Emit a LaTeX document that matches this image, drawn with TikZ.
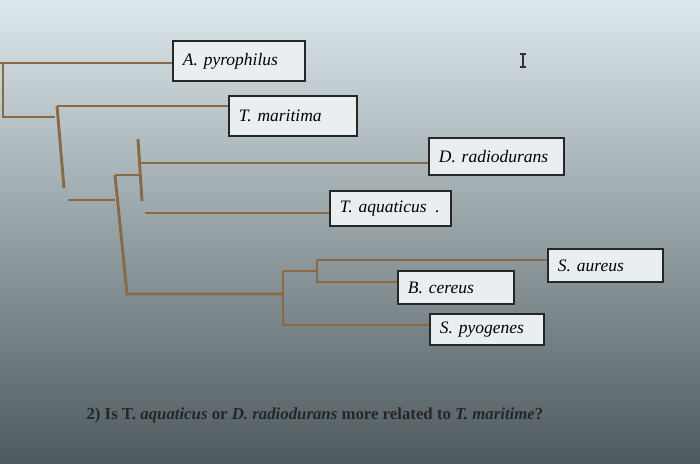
\documentclass[tikz,border=0pt]{standalone}
\usepackage{fontspec}
\setmainfont{Liberation Serif}
\usetikzlibrary{positioning}

\definecolor{branchbrown}{HTML}{8A6A45}
\definecolor{boxfill}{HTML}{E9EEF1}
\definecolor{screentop}{HTML}{DDE8ED}
\definecolor{screenmid}{HTML}{C1CCD2}
\definecolor{screenbot}{HTML}{4E5A5E}
\tikzset{
  branch/.style={line width=2.9pt,color=branchbrown},
  taxon/.style={draw=black!85,line width=1.8pt,fill=boxfill,anchor=north west,
    inner xsep=10pt,inner ysep=0pt,align=left,font=\fontsize{17.5}{19}\selectfont\itshape},
}

\begin{document}
\begin{tikzpicture}[x=1pt,y=-1pt]
        \useasboundingbox (0,0) rectangle (700,463);
        \shade[top color=screentop,middle color=screenmid,bottom color=screenbot] (0,0) rectangle (700,463);
        % taxa
        \node[taxon,text width=112pt,minimum height=40pt] (pyro) at (172,40) {A. pyrophilus};
        \node[taxon,text width=108pt,minimum height=40pt] (tmar) at (228,95) {T. maritima};
        \node[taxon,text width=115pt,minimum height=37pt] (drad) at (428,137) {D. radiodurans};
        \node[taxon,text width=101pt,minimum height=35pt] (taq) at (329,190) {T. aquaticus \,.};
        \node[taxon,text width=95pt,minimum height=33pt] (saur) at (547,248) {S. aureus};
        \node[taxon,text width=96pt,minimum height=33pt] (bcer) at (397,270) {B. cereus};
        \node[taxon,text width=94pt,minimum height=31pt] (spyo) at (429,313) {S. pyogenes};
        % tree
        \coordinate (r0) at (0,63) {};
        \coordinate (r1) at (3,117) {};
        \coordinate (n1) at (57,106) {};
        \coordinate (n1b) at (64,188) {};
        \coordinate (n2) at (115,175) {};
        \coordinate (n2b) at (127,294) {};
        \coordinate (n3) at (138,139) {};
        \coordinate (n4) at (283,271) {};
        \coordinate (n5) at (317,260) {};
        \draw[branch] (r0)--(r0 -| pyro.west);
        \draw[branch] (3,63)--(r1)--(55,117);
        \draw[branch] (n1)--(n1b);
        \draw[branch] (n1)--(n1 -| tmar.west);
        \draw[branch] (68,200)--(115,200);
        \draw[branch] (n2)--(n2b)--(n4 |- n2b);
        \draw[branch] (n2)--(140,175);
        \draw[branch] (n3)--(142,201);
        \draw[branch] (140,163)--(drad.west |- 0,163);
        \draw[branch] (145,213)--(taq.west |- 0,213);
        \draw[branch] (n4)--(283,325)--(spyo.west |- 0,325);
        \draw[branch] (n4)--(n5 |- n4);
        \draw[branch] (n5)--(317,282)--(bcer.west |- 0,282);
        \draw[branch] (n5)--(n5 -| saur.west);
        % cursor
        \draw[line width=1.4pt,black!80] (523,54)--(523,67) (520,54)--(526,54) (520,67)--(526,67);
        % question
        \node[anchor=west,font=\bfseries\fontsize{16.8}{18}\selectfont,text=black!85] (q) at (83,415)
          {2) Is T. \textit{aquaticus} or \textit{D. radiodurans} more related to \textit{T. maritime}?};
      \end{tikzpicture}
\end{document}
